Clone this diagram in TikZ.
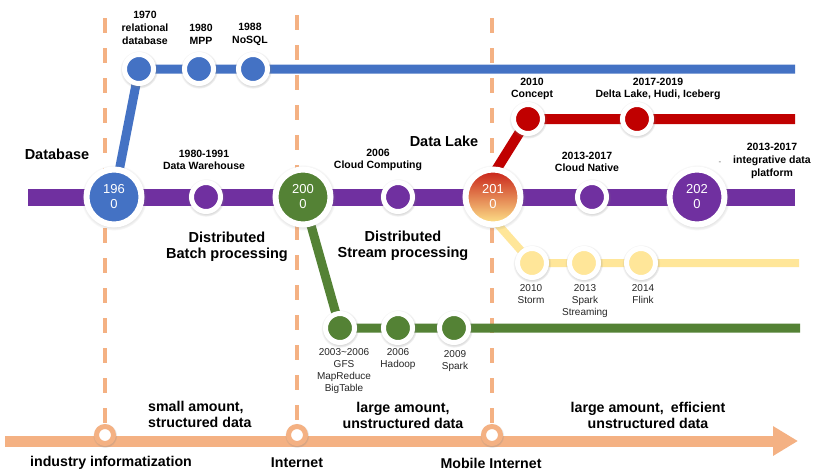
\documentclass[tikz,border=0pt]{standalone}
\usepackage{fontspec}
\setmainfont{Liberation Sans}
\usetikzlibrary{shadows,arrows.meta,calc}
\definecolor{cblue}{HTML}{4472C4}
\definecolor{cpurple}{HTML}{7030A0}
\definecolor{cgreen}{HTML}{548235}
\definecolor{cred}{HTML}{C00000}
\definecolor{cyellow}{HTML}{FFE699}
\definecolor{corange}{HTML}{F4B183}
\pgfdeclarelayer{bg}
\pgfdeclarelayer{lines}
\pgfsetlayers{bg,lines,main}
\begin{document}
\begin{tikzpicture}[x=1pt,y=-1pt,
  stn/.style={circle, draw=white, line width=5pt, inner sep=0pt, minimum size=29pt, fill=#1,
    circular drop shadow={shadow xshift=0pt, shadow yshift=-0.5pt, shadow scale=1.32, opacity=0.28}},
  big/.style={circle, draw=white, line width=6pt, inner sep=0pt, minimum size=55pt, fill=#1,
    text=white, align=center, font=\fontsize{13}{15}\selectfont,
    circular drop shadow={shadow xshift=0pt, shadow yshift=-0.5pt, shadow scale=1.2, opacity=0.28}},
  axc/.style={circle, draw=corange, fill=white, line width=5pt, inner sep=0pt, minimum size=17pt,
    circular drop shadow={shadow xshift=0pt, shadow yshift=-0.5pt, shadow scale=1.45, opacity=0.25}},
  lbl/.style={font=\bfseries\fontsize{10.5}{12.7}\selectfont, align=center, inner sep=0pt},
  sm/.style={font=\fontsize{10}{12}\selectfont, align=center, inner sep=0pt, text=black!85},
  head/.style={font=\bfseries\fontsize{14.5}{16.5}\selectfont, align=center, inner sep=0pt},
  era/.style={font=\bfseries\fontsize{14.2}{16}\selectfont, inner sep=0pt},
  dashline/.style={draw=corange, line width=4pt, dash pattern=on 15pt off 15pt},
]
\useasboundingbox (0,0) rectangle (830,474);
\begin{pgfonlayer}{bg}
\fill[white] (0,0) rectangle (830,474);
\end{pgfonlayer}

% ---------- stations ----------
\node[big=cblue]   (n1960) at (114,197) {196\\0};
\node[stn=cpurple] (ndw)   at (206,197) {};
\node[big=cgreen]  (n2000) at (303,197) {200\\0};
\node[stn=cpurple] (ncc)   at (398,197) {};
\node[big=cred, top color={rgb,255:red,200;green,30;blue,22}, middle color={rgb,255:red,236;green,150;blue,80}, bottom color={rgb,255:red,255;green,230;blue,140}] (n2010) at (493,197) {201\\0};
\node[stn=cpurple] (ncn)   at (592,197) {};
\node[big=cpurple] (n2020) at (697,197) {202\\0};

\node[stn=cblue] (n1970) at (139,69) {};
\node[stn=cblue] (n1980) at (199,69) {};
\node[stn=cblue] (n1988) at (253,69) {};

\node[stn=cred] (ncon) at (528,119) {};
\node[stn=cred] (ndel) at (637,119) {};

\node[stn=cyellow] (nsto) at (532,263) {};
\node[stn=cyellow] (nssp) at (584,263) {};
\node[stn=cyellow] (nfli) at (641,263) {};

\node[stn=cgreen] (ngfs) at (340,328) {};
\node[stn=cgreen] (nhad) at (398,328) {};
\node[stn=cgreen] (nspa) at (454,328) {};

% ---------- axis ----------
\coordinate (axL) at (5,441);
\coordinate (axR) at (798,441);
\begin{pgfonlayer}{lines}
\draw[corange, line width=11pt, -{Triangle[width=28pt,length=25pt]}] (axL) -- (axR);
\end{pgfonlayer}
\node[axc] (e1) at (105,435) {};
\node[axc] (e2) at (297,435) {};
\node[axc] (e3) at (492,435) {};

% ---------- dashed era lines ----------
\coordinate (d1) at (105,18);
\coordinate (d2) at (297,15);
\coordinate (d3) at (492,18);
\begin{pgfonlayer}{bg}
\draw[dashline] (d1) -- (e1);
\draw[dashline] (d2) -- (e2);
\draw[dashline] (d3) -- (e3);
\end{pgfonlayer}

% ---------- tracks ----------
\coordinate (bE) at (795,69);
\coordinate (pS) at (28,197);
\coordinate (pE) at (795,197);
\coordinate (rE) at (795,119);
\coordinate (yE) at (799,263);
\coordinate (gE) at (800,328);
\begin{pgfonlayer}{lines}
\draw[cblue, line width=9pt, line join=round] (n1960.center) -- (n1970.center) -- (n1988.center) -- (bE);
\draw[cpurple, line width=17pt] (pS) -- (pE);
\draw[cred, line width=10pt, line join=round] ($(n2010.center)+(0,-22)$) -- (ncon.center) -- (ndel.center) -- (rE);
\draw[cyellow, line width=8pt, line join=round] ($(n2010.center)+(0,22)$) -- (nsto.center) -- (nfli.center) -- (yE);
\draw[cgreen, line width=9pt, line join=round] (n2000.center) -- (ngfs.center) -- (nspa.center) -- (gE);
\end{pgfonlayer}

% ---------- labels ----------
\node[lbl] (t1970) at (145,28) {1970\\relational\\database};
\node[lbl] (t1980) at (201,34.5) {1980\\MPP};
\node[lbl] (t1988) at (250,34.5) {1988\\NoSQL};
\node[head] (tdb) at (57,154) {Database};
\node[lbl] (tdw) at (204,160) {1980-1991\\Data Warehouse};
\node[head] (tbatch) at (227,247) {Distributed\\Batch processing};
\node[lbl] (tcc) at (378,160) {2006\\Cloud Computing};
\node[head] (tlake) at (444,141) {Data Lake};
\node[head] (tstream) at (403,246) {Distributed\\Stream processing};
\node[lbl] (tcon) at (532,89) {2010\\Concept};
\node[lbl] (tdel) at (658,89) {2017-2019\\Delta Lake, Hudi, Iceberg};
\node[lbl] (tcn) at (587,162) {2013-2017\\Cloud Native};
\node[lbl] (tint) at (772,161) {2013-2017\\integrative data\\platform};
\node[inner sep=0pt, font=\fontsize{8}{8}\selectfont, text=black!60] (tdash) at (720,163) {-};

\node[sm, anchor=north] (tsto) at (531,284) {2010\\Storm};
\node[sm, anchor=north] (tssp) at (585,284) {2013\\Spark\\Streaming};
\node[sm, anchor=north] (tfli) at (643,284) {2014\\Flink};

\node[sm, anchor=north] (tgfs) at (344,348) {2003\textasciitilde2006\\GFS\\MapReduce\\BigTable};
\node[sm, anchor=north] (thad) at (398,348) {2006\\Hadoop};
\node[sm, anchor=north] (tspa) at (455,350) {2009\\Spark};

\node[era, align=left, anchor=west] (tsmall) at (148,414) {small amount,\\structured data};
\node[era, align=center] (tlarge) at (403,415) {large amount,\\unstructured data};
\node[era, align=center] (tlarge2) at (648,415) {large amount,\enspace efficient\\unstructured data};

\node[era] (tind) at (111,463) {industry informatization};
\node[era] (tinet) at (297,463) {Internet};
\node[era] (tmob) at (491,463) {Mobile Internet};
\end{tikzpicture}
\end{document}
